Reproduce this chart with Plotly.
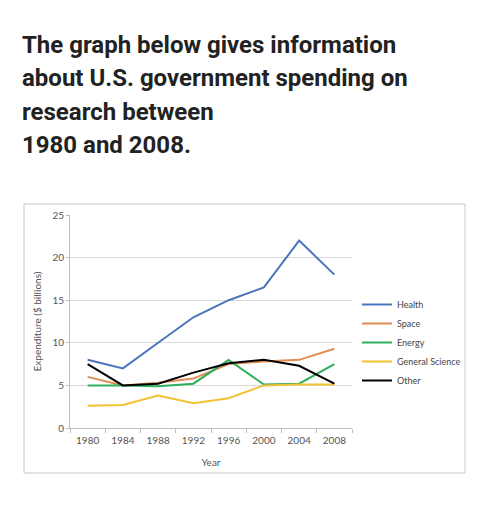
import plotly.graph_objects as go

years = ["1980", "1984", "1988", "1992", "1996", "2000", "2004", "2008"]
health = [8, 7, 10, 13, 15, 16.5, 22, 18]
space = [6, 5, 5.3, 5.8, 7.5, 7.8, 8, 9.3]
energy = [5, 5, 4.9, 5.2, 8, 5.1, 5.2, 7.5]
general_science = [2.6, 2.7, 3.8, 2.9, 3.5, 5, 5.1, 5.1]
other = [7.5, 5, 5.2, 6.5, 7.6, 8, 7.3, 5.2]

series = [
    ("Health", health, "#4a74be"),
    ("Space", space, "#e08c55"),
    ("Energy", energy, "#2fae5c"),
    ("General Science", general_science, "#f3c233"),
    ("Other", other, "#000000"),
]

OFF = 8  # browser body margin
W, H = 488 - OFF, 512 - OFF
L, T, R, B = 70 - OFF, 215 - OFF, 352 - OFF, 428 - OFF
PW, PH = R - L, B - T

def px(x):
    return (x - OFF - L) / PW

def py(y):
    return (B - (y - OFF)) / PH

fig = go.Figure()
for name, vals, col in series:
    fig.add_trace(go.Scatter(x=years, y=vals, name=name, mode="lines",
                             line=dict(color=col, width=2)))

tick_font = dict(family="Lato, DejaVu Sans, sans-serif", size=10, color="#555555")
fig.update_layout(
    width=W, height=H,
    margin=dict(l=L, r=W - R, t=T, b=H - B),
    paper_bgcolor="white", plot_bgcolor="white",
    showlegend=True,
    legend=dict(x=px(357), xanchor="left", y=py(290), yanchor="top",
                font=dict(family="Lato, DejaVu Sans, sans-serif", size=9, color="#444444"),
                itemwidth=30, bgcolor="rgba(0,0,0,0)"),
    xaxis=dict(type="category", range=[-0.5, 7.5], showgrid=False, showline=True,
               linecolor="#bfbfbf", ticks="outside", tickson="boundaries", ticklen=4,
               tickcolor="#bfbfbf", tickfont=tick_font, ticklabelstandoff=3,
               title=dict(text="Year", font=tick_font, standoff=13)),
    yaxis=dict(range=[0, 25], dtick=5, showgrid=True, gridcolor="#d9d9d9",
               showline=True, linecolor="#bfbfbf", ticks="outside", ticklen=3,
               tickcolor="#bfbfbf", tickfont=tick_font, zeroline=False,
               title=dict(text="Expenditure ($ billions)", font=tick_font, standoff=8)),
)

# chart frame
fig.add_shape(type="rect", xref="paper", yref="paper",
              x0=px(24), x1=px(465), y0=py(473), y1=py(204),
              line=dict(color="#c8c8c8", width=1), layer="below")

title_lines = ["The graph below gives information",
               "about U.S. government spending on",
               "research between",
               "1980 and 2008."]
for i, t in enumerate(title_lines):
    ypix = 45 + i * 33.3
    fig.add_annotation(text="<b>" + t + "</b>", xref="paper", yref="paper",
                       x=px(20), xanchor="left", y=py(ypix), yanchor="middle",
                       showarrow=False,
                       font=dict(family="Roboto, sans-serif", size=24, color="#222222"))

fig.write_html("out.html")
